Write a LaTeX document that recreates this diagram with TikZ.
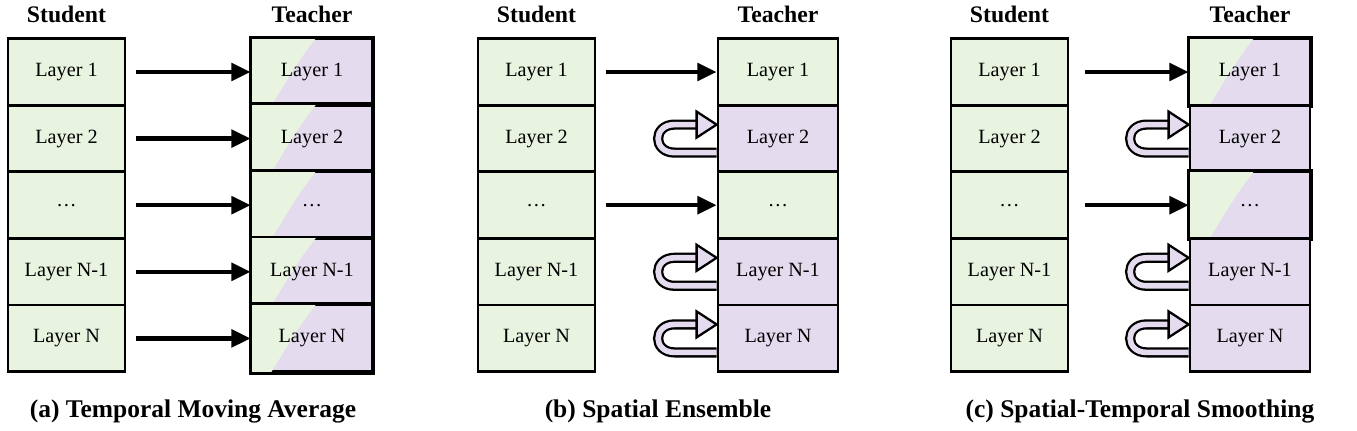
\documentclass[tikz,border=0pt]{standalone}
\usepackage{fontspec}
\setmainfont{Liberation Serif}
\usetikzlibrary{arrows.meta,calc}
\definecolor{tg}{HTML}{E8F3E0}
\definecolor{tp}{HTML}{E4DCEE}
\begin{document}
\begin{tikzpicture}[x=0.02cm,y=-0.02cm,
  cell/.style={draw=black,line width=1.6pt,minimum height=1.333cm,inner sep=0pt,font=\fontsize{11.5}{13}\selectfont},
  scell/.style={cell,fill=tg,minimum width=2.34cm},
  tcell/.style={cell,fill=tp,minimum width=2.4cm},
  tgcell/.style={cell,fill=tg,minimum width=2.4cm},
  txt/.style={font=\fontsize{11.5}{13}\selectfont},
  head/.style={font=\bfseries\fontsize{13.5}{15}\selectfont},
  captxt/.style={font=\bfseries\fontsize{14.5}{17}\selectfont},
  arr/.style={line width=2.4pt,-{Triangle[length=11pt,width=10pt]}},
  uturn/.style={line width=1.3pt,double=tp,double distance=3.2pt}]
\useasboundingbox (0,0) rectangle (1357,430);
\def\lab{{"Layer 1","Layer 2","\dots","Layer N-1","Layer N"}}
\newcommand{\gpatch}[1]{%
  \fill[tg] (#1.north west) -- ++(66,0) .. controls +(-22,28) and +(14,-22) .. ($(#1.south west)+(20,0)$) -- (#1.south west) -- cycle;
  \draw[line width=1.6pt] (#1.north west) rectangle (#1.south east);}
\newcommand{\uarrow}[1]{%
  \coordinate (u1) at ($(#1.west)+(0,14)$);
  \coordinate (u2) at ($(#1.west)+(-42,14)$);
  \coordinate (u3) at ($(#1.west)+(-42,-14)$);
  \coordinate (u4) at ($(#1.west)+(-18,-14)$);
  \draw[uturn] (u1) -- (u2) .. controls +(-22,0) and +(-22,0) .. (u3) -- (u4);
  \draw[line width=1.3pt,fill=tp] ($(#1.west)+(-20,-27)$) -- ($(#1.west)+(0,-14)$) -- ($(#1.west)+(-20,-1)$) -- cycle;}
\foreach \p/\sx/\tx in {a/66.5/312, b/536.5/778, c/1009.5/1250}{
  \node[head] (\p hs) at (\sx,14) {Student};
  \node[head] (\p ht) at (\tx,14) {Teacher};
  \foreach \i in {0,...,4}{
    \pgfmathsetmacro{\yc}{72+66.6*\i}
    \pgfmathparse{\lab[\i]}\let\t\pgfmathresult
    \node[scell] (\p s\i) at (\sx,\yc) {\t};
  }
}
% teacher a
\foreach \i in {0,...,4}{
  \pgfmathsetmacro{\yc}{72+66.6*\i}
  \pgfmathparse{\lab[\i]}\let\t\pgfmathresult
  \node[tcell] (at\i) at (312,\yc) {};
  \gpatch{at\i}
  \node[txt] (atl\i) at (at\i) {\t};
  \draw[arr] ($(as\i.east)+(10,0)$) -- (at\i.west);
}
% teacher b
\foreach \i/\st in {0/tgcell,1/tcell,2/tgcell,3/tcell,4/tcell}{
  \pgfmathsetmacro{\yc}{72+66.6*\i}
  \pgfmathparse{\lab[\i]}\let\t\pgfmathresult
  \node[\st] (bt\i) at (778,\yc) {\t};
}
\foreach \i in {0,2}{\draw[arr] ($(bs\i.east)+(10,0)$) -- (bt\i.west);}
\foreach \i in {1,3,4}{\uarrow{bt\i}}
% teacher c
\foreach \i in {0,...,4}{
  \pgfmathsetmacro{\yc}{72+66.6*\i}
  \pgfmathparse{\lab[\i]}\let\t\pgfmathresult
  \node[tcell] (ct\i) at (1250,\yc) {};
  \ifnum\i=0 \gpatch{ct\i}\fi
  \ifnum\i=2 \gpatch{ct\i}\fi
  \node[txt] (ctl\i) at (ct\i) {\t};
}
\foreach \i in {0,2}{\draw[arr] ($(cs\i.east)+(16,0)$) -- (ct\i.west);}
\foreach \i in {1,3,4}{\uarrow{ct\i}}
\node[captxt] (capa) at (193,411) {(a) Temporal Moving Average};
\node[captxt] (capb) at (658,411) {(b) Spatial Ensemble};
\node[captxt] (capc) at (1140,411) {(c) Spatial-Temporal Smoothing};
\end{tikzpicture}
\end{document}
